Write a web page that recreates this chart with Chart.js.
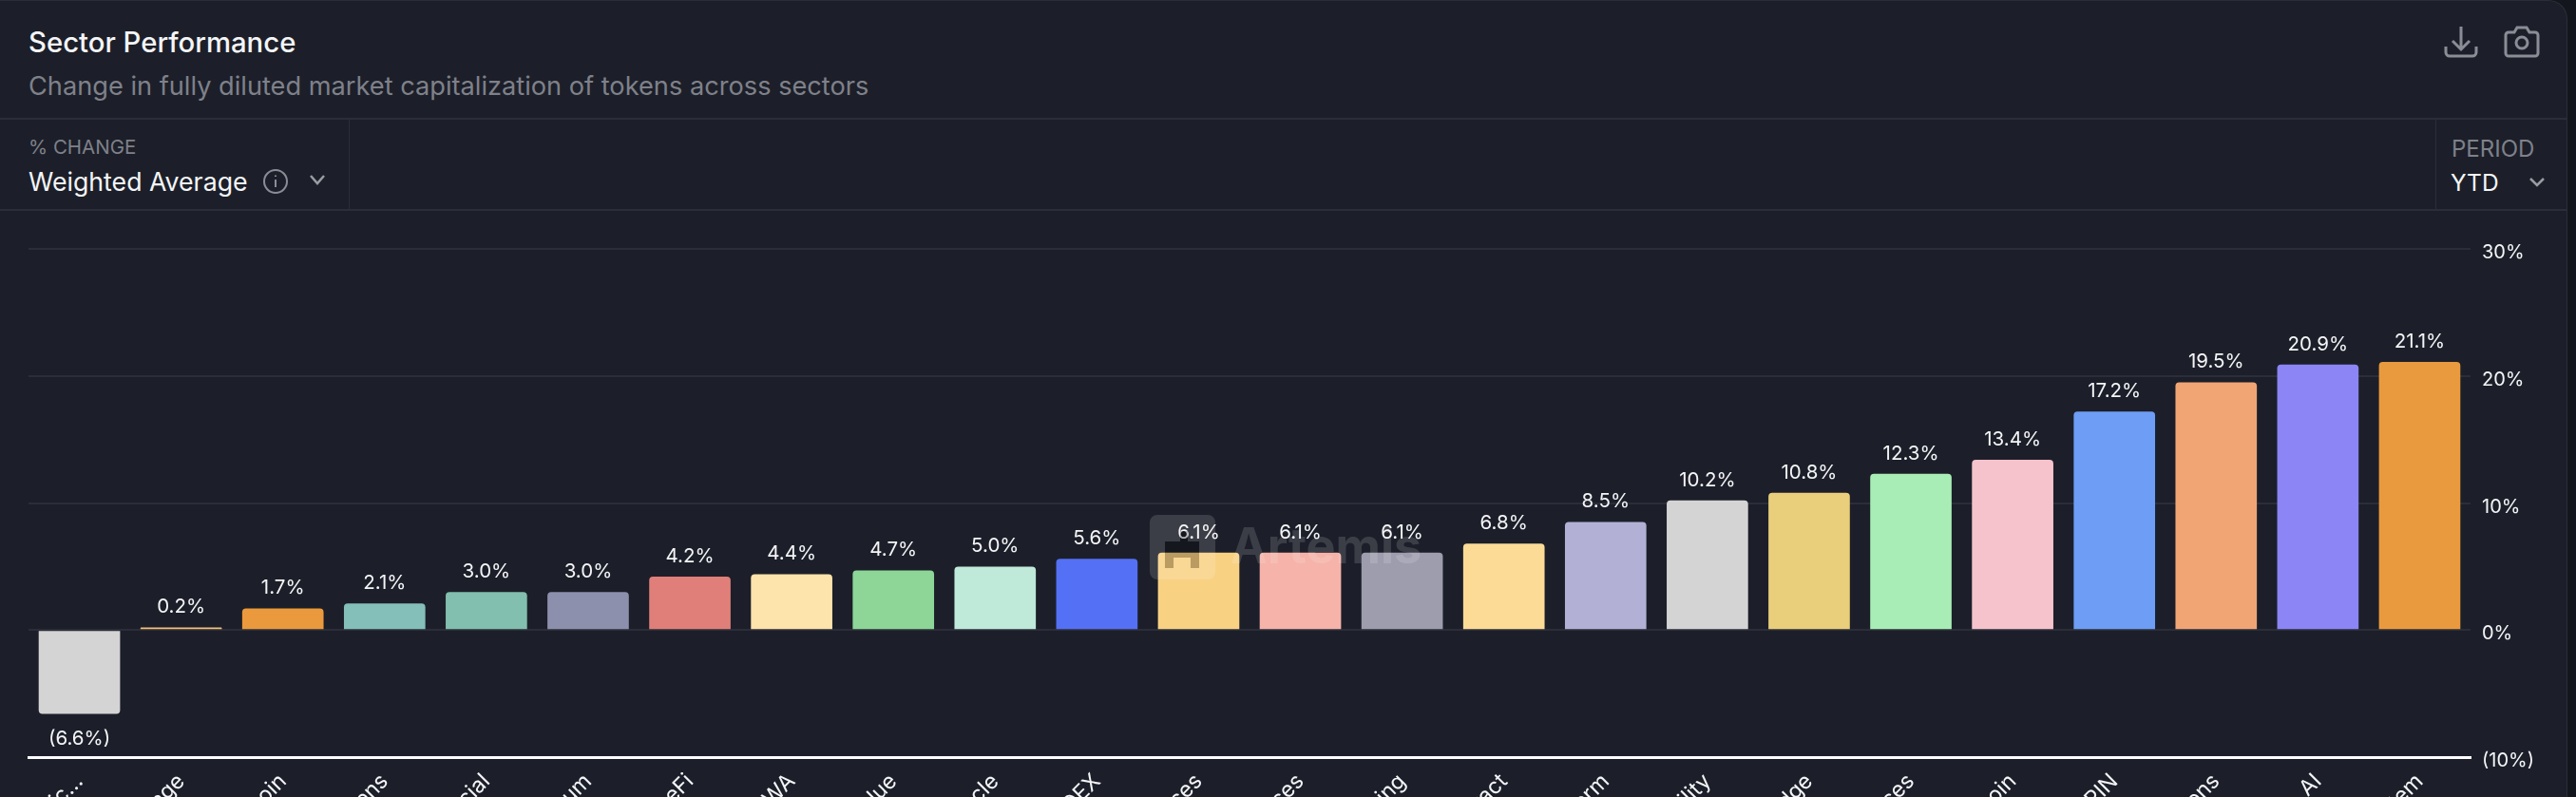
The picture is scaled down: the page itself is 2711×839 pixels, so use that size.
<!DOCTYPE html>
<html>
<head>
<meta charset="utf-8">
<style>
  html, body { margin: 0; padding: 0; width: 2711px; height: 839px; overflow: hidden; background: #14161d; font-family: Inter, sans-serif; }
  .card { position: absolute; left: 0; top: 0; width: 2702px; height: 839px; background: #1c1f29; border: 1px solid #2b2e38; border-bottom: none; border-left: none; border-radius: 0 20px 0 0; box-sizing: border-box; }
  .abs { position: absolute; white-space: nowrap; line-height: 1; }
  .rule { position: absolute; background: #2b2e38; }
  #chartBox { position: absolute; left: 0; top: 0; width: 2711px; height: 839px; }
</style>
</head>
<body>
<div class="card"></div>
<div class="abs" style="left:30px;top:30px;font-size:29.3px;font-weight:500;color:#f4f5f7">Sector Performance</div>
<div class="abs" style="left:30px;top:77px;font-size:27.2px;color:#7f818a">Change in fully diluted market capitalization of tokens across sectors</div>
<div class="rule" style="left:0;top:124px;width:2702px;height:2px"></div>
<div class="rule" style="left:0;top:220px;width:2702px;height:2px"></div>
<div class="rule" style="left:367px;top:125px;width:1px;height:96px"></div>
<div class="rule" style="left:2563px;top:125px;width:1px;height:96px"></div>
<div class="abs" style="left:30px;top:145px;font-size:20.5px;color:#7f818a">% CHANGE</div>
<div class="abs" style="left:30px;top:178px;font-size:26.7px;color:#f4f5f7">Weighted Average</div>
<svg class="abs" style="left:276px;top:177px" width="28" height="28" viewBox="0 0 28 28" fill="none" stroke="#8b8d96" stroke-width="2"><circle cx="14" cy="14" r="12"/><path d="M14 12v8M14 7.5v1.5"/></svg>
<svg class="abs" style="left:323px;top:183px" width="22" height="14" viewBox="0 0 22 14" fill="none" stroke="#9a9ca4" stroke-width="2.5"><path d="M4 2l7 8 7-8"/></svg>
<div class="abs" style="left:2580px;top:145px;font-size:24px;color:#7f818a">PERIOD</div>
<div class="abs" style="left:2579px;top:180px;font-size:24.5px;color:#f4f5f7">YTD</div>
<svg class="abs" style="left:2660px;top:185px" width="20" height="14" viewBox="0 0 20 14" fill="none" stroke="#9a9ca4" stroke-width="2.5"><path d="M3 3l7 7 7-7"/></svg>
<svg class="abs" style="left:2570px;top:24px" width="40" height="40" viewBox="0 0 40 40" fill="none" stroke="#8b8d96" stroke-width="3"><path d="M20 4v24M11 19l9 9 9-9M4 25v6a4 4 0 0 0 4 4h24a4 4 0 0 0 4-4v-6"/></svg>
<svg class="abs" style="left:2634px;top:26px" width="40" height="36" viewBox="0 0 40 36" fill="none" stroke="#8b8d96" stroke-width="3"><path d="M6 8h6l3-5h10l3 5h6a3 3 0 0 1 3 3v19a3 3 0 0 1-3 3H6a3 3 0 0 1-3-3V11a3 3 0 0 1 3-3z"/><circle cx="20" cy="19" r="6"/></svg>
<div id="chartBox"><canvas id="chart"></canvas></div>
<svg class="abs" style="left:1210px;top:542px" width="69" height="68" viewBox="0 0 69 68"><path fill-rule="evenodd" fill="#fff" fill-opacity=".14" d="M8 0h53a8 8 0 0 1 8 8v52a8 8 0 0 1-8 8H8a8 8 0 0 1-8-8V8a8 8 0 0 1 8-8zM16 28v28h9v-11h18v11h9V28H40v-11h-8v11z"/><path fill="#000" fill-opacity=".25" d="M16 28v28h9v-11h18v11h9V28H40v-11h-8v11z"/></svg>
<div class="abs" style="left:1295px;top:549px;font-size:52px;font-weight:700;color:#fff;opacity:.14">Artemis</div>
<script src="https://cdn.jsdelivr.net/npm/chart.js@4.4.7/dist/chart.umd.min.js"></script>
<script>
// Sector Performance, YTD change
// labels run off the bottom of the shot, only their endings can be read
const sectors = ['Public…', 'Storage', 'Bitcoin', 'Tokens', 'Social', 'Ethereum', 'DeFi', 'RWA', 'Store of Value', 'Oracle', 'DEX', 'Data Services', 'Financial Services', 'Gaming', 'Smart Contract', 'Long Term', 'Utility', 'Bridge', 'Infra Services', 'Memecoin', 'DePIN', 'L2 Solutions', 'AI', 'Ecosystem'];
const changes = [-6.6, 0.2, 1.7, 2.1, 3.0, 3.0, 4.2, 4.4, 4.7, 5.0, 5.6, 6.1, 6.1, 6.1, 6.8, 8.5, 10.2, 10.8, 12.3, 13.4, 17.2, 19.5, 20.9, 21.1];
const barColors = ['#d4d4d4', '#f2c078', '#ea9a3c', '#84bfb9', '#82bfae', '#8c90ad', '#e07f79', '#fde3ac', '#8dd698', '#bfe9d9', '#5470f5', '#f8d183', '#f5b3a9', '#9d9dae', '#fcdb97', '#b2b1d5', '#d4d4d4', '#e9cf7b', '#a8edb5', '#f6c3cd', '#6e9df6', '#f2a574', '#8b85f6', '#ea9a3e'];
const yTicks = [-10, 0, 10, 20, 30];

function formatPct(v, digits) {
  const s = Math.abs(v).toFixed(digits) + '%';
  return v < 0 ? '(' + s + ')' : s;
}

// no datalabels plugin on the page, so draw the value labels here
const valueLabels = {
  id: 'valueLabels',
  afterDatasetsDraw(chart) {
    const { ctx } = chart;
    const bars = chart.getDatasetMeta(0).data;
    ctx.save();
    ctx.font = '400 20.5px Inter, sans-serif';
    ctx.fillStyle = '#f4f5f7';
    ctx.textAlign = 'center';
    bars.forEach((bar, i) => {
      const v = changes[i];
      ctx.textBaseline = v < 0 ? 'top' : 'bottom';
      ctx.fillText(formatPct(v, 1), bar.x, v < 0 ? bar.y + 16 : bar.y - 11);
    });
    ctx.restore();
  },
};

new Chart(document.getElementById('chart'), {
  type: 'bar',
  data: {
    labels: sectors,
    datasets: [{
      data: changes,
      backgroundColor: barColors,
      borderRadius: 4,
      barPercentage: 0.8,
      categoryPercentage: 1,
    }],
  },
  options: {
    responsive: true,
    maintainAspectRatio: false,
    animation: false,
    layout: { padding: { left: 30, top: 262, right: 0, bottom: 0 } },
    plugins: { legend: { display: false }, tooltip: { enabled: false } },
    scales: {
      x: {
        grid: { display: false },
        border: { color: '#ffffff', width: 3 },
        // rotated labels would otherwise push the plot to the right
        afterFit: (s) => { s.height = 42; s.paddingLeft = 0; s.paddingRight = 0; },
        ticks: {
          autoSkip: false,
          maxRotation: 45,
          minRotation: 45,
          color: '#f4f5f7',
          padding: 4,
          font: { family: 'Inter', size: 23 },
        },
      },
      y: {
        position: 'right',
        min: -10,
        max: 30,
        afterFit: (s) => { s.width = 111; },
        afterBuildTicks: (s) => { s.ticks = yTicks.map((value) => ({ value })); },
        grid: { color: '#2b2e38', lineWidth: 2, drawTicks: false },
        border: { display: false },
        ticks: {
          color: '#f4f5f7',
          padding: 12,
          labelOffset: 4,
          font: { family: 'Inter', size: 20 },
          callback: (v) => formatPct(v, 0),
        },
      },
    },
  },
  plugins: [valueLabels],
});
</script>
</body>
</html>
